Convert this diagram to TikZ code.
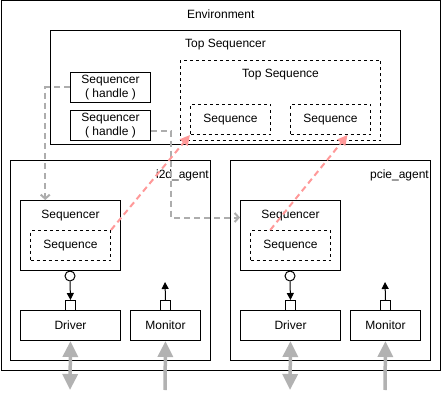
\documentclass[tikz,border=0pt]{standalone}
\usepackage{fontspec}
\setmainfont{Liberation Sans}
\usetikzlibrary{arrows.meta,calc}
\tikzset{
  blk/.style={draw,line width=1pt,inner sep=0pt,anchor=north west,align=center},
  dblk/.style={blk,dash pattern=on 3pt off 3pt},
  port/.style={blk,minimum width=10pt,minimum height=10pt},
  ttl/.style={anchor=base,inner sep=0pt},
  link/.style={draw=black!32,line width=2pt,dash pattern=on 6pt off 4pt,
    -{Straight Barb[length=4pt,width=9pt]}},
  msg/.style={draw=red!40,line width=2pt,dash pattern=on 6pt off 4pt,
    -{Triangle[length=10pt,width=10pt]}},
  wire/.style={draw,line width=1pt,-{Triangle[length=7pt,width=7pt]}},
  bus/.style={draw=black!30,line width=3.5pt,>={Triangle[length=16pt,width=15pt]}}
}
\begin{document}
\begin{tikzpicture}[x=1pt,y=-1pt,font=\fontsize{12}{14}\selectfont]
\useasboundingbox (0,0) rectangle (441,401);
% environment and top sequencer
\node[blk,minimum width=439.5pt,minimum height=369.5pt] (env) at (0.5,0.5) {};
\node[ttl] at ($(env.north)+(0,18)$) {Environment};
\node[blk,minimum width=350pt,minimum height=114pt] (topseqr) at (50,30) {};
\node[ttl] at ($(topseqr.north)+(0,18)$) {Top Sequencer};
\node[dblk,minimum width=200pt,minimum height=80pt] (topseq) at (180,60) {};
\node[ttl] at ($(topseq.north)+(0,18)$) {Top Sequence};
\node[dblk,minimum width=80pt,minimum height=30pt] (tsA) at (190,104) {Sequence};
\node[dblk,minimum width=80pt,minimum height=30pt] (tsB) at (290,104) {Sequence};
\node[blk,minimum width=80pt,minimum height=30pt] (hA) at (70,72) {Sequencer\\( handle )};
\node[blk,minimum width=80pt,minimum height=30pt] (hB) at (70,110) {Sequencer\\( handle )};
% i2d agent
\node[blk,minimum width=200pt,minimum height=200pt] (agA) at (10,160) {};
\node[ttl,anchor=base east] at ($(agA.north east)+(-2,18)$) {i2d\_agent};
\node[blk,minimum width=100pt,minimum height=70pt] (sqrA) at (20,200) {};
\node[ttl] at ($(sqrA.north)+(0,18)$) {Sequencer};
\node[dblk,minimum width=80pt,minimum height=30pt] (sqA) at (30,230) {Sequence};
\node[blk,minimum width=100pt,minimum height=30pt] (drvA) at (20,310) {Driver};
\node[blk,minimum width=70pt,minimum height=30pt] (monA) at (130,310) {Monitor};
\node[port] (pdA) at (65,300) {};
\node[port] (pmA) at (160,300) {};
\node[circle,draw,line width=1pt,minimum size=10pt,inner sep=0pt] (plA) at (70,276) {};
% pcie agent
\node[blk,minimum width=200pt,minimum height=200pt] (agB) at (230,160) {};
\node[ttl,anchor=base east] at ($(agB.north east)+(-2,18)$) {pcie\_agent};
\node[blk,minimum width=100pt,minimum height=70pt] (sqrB) at (240,200) {};
\node[ttl] at ($(sqrB.north)+(0,18)$) {Sequencer};
\node[dblk,minimum width=80pt,minimum height=30pt] (sqB) at (250,230) {Sequence};
\node[blk,minimum width=100pt,minimum height=30pt] (drvB) at (240,310) {Driver};
\node[blk,minimum width=70pt,minimum height=30pt] (monB) at (350,310) {Monitor};
\node[port] (pdB) at (285,300) {};
\node[port] (pmB) at (380,300) {};
\node[circle,draw,line width=1pt,minimum size=10pt,inner sep=0pt] (plB) at (290,276) {};
% free ends
\coordinate (upA) at (165,282);
\coordinate (upB) at (385,282);
\coordinate (ioA1) at (70,390);
\coordinate (ioA2) at (165,390);
\coordinate (ioB1) at (290,390);
\coordinate (ioB2) at (385,390);
% ports
\path[wire] (plA.south) -- (pdA.north);
\path[wire] (pmA.north) -- (upA);
\path[wire] (plB.south) -- (pdB.north);
\path[wire] (pmB.north) -- (upB);
% pins
\path[bus,<->] (drvA.south) -- (ioA1);
\path[bus,->] (ioA2) -- (monA.south);
\path[bus,<->] (drvB.south) -- (ioB1);
\path[bus,->] (ioB2) -- (monB.south);
% handles
\path[link] (hA.west) -| ($(sqrA.north west)!0.25!(sqrA.north east)$);
\path[link] ([yshift=-5pt]hB.east) -- ++(20,0) |- ([yshift=18pt]sqrB.west);
% sequences
\path[msg] (sqA.north east) -- (tsA.south west);
\path[msg] ($(sqB.north west)!0.25!(sqB.north east)$) -- ($(tsB.south west)!0.71!(tsB.south east)$);
\end{tikzpicture}
\end{document}
